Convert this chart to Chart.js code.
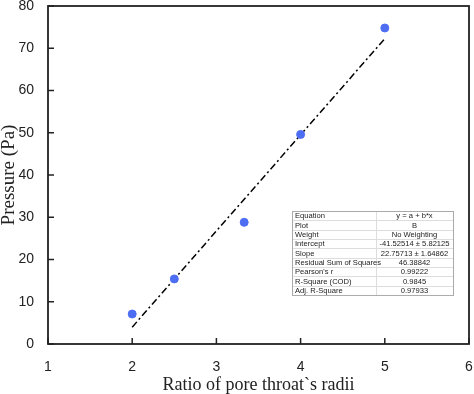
<!DOCTYPE html>
<html>
<head>
<meta charset="utf-8">
<script src="https://cdn.jsdelivr.net/npm/chart.js@4"></script>
<style>
  html, body { margin: 0; padding: 0; background: #fff; }
  canvas { display: block; }
</style>
</head>
<body>
<canvas id="myChart" width="474" height="394"></canvas>
<script>
// measured points
var ratio = [2, 2.5, 3.33, 4, 5];
var pressure = [7.1, 15.4, 28.8, 49.6, 74.8];
// fitted line ends
var fitX = [2, 5];
var fitY = [3.99, 72.26];
var xTicks = [1, 2, 3, 4, 5, 6];
var yTicks = [0, 10, 20, 30, 40, 50, 60, 70, 80];
// fit report box
var statNames = ['Equation', 'Plot', 'Weight', 'Intercept', 'Slope', 'Residual Sum of Squares', "Pearson's r", 'R-Square (COD)', 'Adj. R-Square'];
var statValues = ['y = a + b*x', 'B', 'No Weighting', '-41.52514 \u00b1 5.82125', '22.75713 \u00b1 1.64862', '46.38842', '0.99222', '0.9845', '0.97933'];

var frame = {
    id: 'frame',
    afterDraw: function (chart) {
        var c = chart.ctx, a = chart.chartArea;
        var xs = chart.scales.x, ys = chart.scales.y;
        c.save();
        c.strokeStyle = '#222';
        c.lineWidth = 1.8;
        c.strokeRect(a.left, a.top, a.right - a.left, a.bottom - a.top);
        c.lineWidth = 1.5;
        c.beginPath();
        xTicks.forEach(function (v) {
            var px = xs.getPixelForValue(v);
            c.moveTo(px, a.bottom);
            c.lineTo(px, a.bottom - 6);
        });
        yTicks.forEach(function (v) {
            var py = ys.getPixelForValue(v);
            c.moveTo(a.left, py);
            c.lineTo(a.left + 6, py);
        });
        c.stroke();

        // stats table
        var tx = 292, ty = 211, w = 161, rh = 9.33, split = 376;
        var h = rh * statNames.length;
        c.fillStyle = '#fff';
        c.fillRect(tx, ty, w, h);
        c.strokeStyle = '#ddd';
        c.lineWidth = 1;
        for (var i = 1; i < statNames.length; i++) {
            c.beginPath();
            c.moveTo(tx, Math.round(ty + i * rh) + 0.5);
            c.lineTo(tx + w, Math.round(ty + i * rh) + 0.5);
            c.stroke();
        }
        c.beginPath();
        c.moveTo(split + 0.5, ty);
        c.lineTo(split + 0.5, ty + h);
        c.stroke();
        c.strokeStyle = '#aaa';
        c.strokeRect(tx + 0.5, ty + 0.5, w, h);
        c.fillStyle = '#222';
        c.font = '7.6px "Liberation Sans", Arial, sans-serif';
        c.textBaseline = 'middle';
        statNames.forEach(function (n, i) {
            var yy = ty + i * rh + rh / 2 + 0.5;
            c.textAlign = 'left';
            c.fillText(n, tx + 3, yy);
            c.textAlign = 'center';
            c.fillText(statValues[i], (split + tx + w) / 2, yy);
        });
        c.restore();
    }
};

var ctx = document.getElementById('myChart').getContext('2d');
var myChart = new Chart(ctx, {
    type: 'scatter',
    data: {
        datasets: [{
            data: ratio.map(function (x, i) { return {x: x, y: pressure[i]}; }),
            backgroundColor: '#4d6ef2',
            borderColor: '#4d6ef2',
            pointRadius: 4,
            order: 1
        }, {
            data: fitX.map(function (x, i) { return {x: x, y: fitY[i]}; }),
            showLine: true,
            borderColor: '#000',
            borderWidth: 1.5,
            borderDash: [7, 3, 2, 3],
            pointRadius: 0,
            order: 2
        }]
    },
    options: {
        responsive: false,
        animation: false,
        devicePixelRatio: 1,
        layout: { padding: { left: 0, top: 6, right: 4, bottom: 0 } },
        plugins: { legend: { display: false }, tooltip: { enabled: false } },
        scales: {
            x: {
                type: 'linear',
                min: 1, max: 6,
                afterFit: function (s) { s.height = 50; s.paddingLeft = 0; s.paddingRight = 0; },
                afterBuildTicks: function (s) { s.ticks = xTicks.map(function (v) { return {value: v}; }); },
                grid: { display: false },
                border: { display: false },
                ticks: {
                    padding: 7,
                    color: '#222',
                    font: { family: '"Liberation Sans", Arial, sans-serif', size: 14 }
                },
                title: {
                    display: true,
                    text: 'Ratio of pore throat`s radii',
                    color: '#222',
                    padding: 0,
                    font: { family: '"Liberation Serif", "Times New Roman", serif', size: 18, lineHeight: 1 }
                }
            },
            y: {
                min: 0, max: 80,
                afterFit: function (s) { s.width = 48; s.paddingTop = 0; s.paddingBottom = 0; },
                afterBuildTicks: function (s) { s.ticks = yTicks.map(function (v) { return {value: v}; }); },
                grid: { display: false },
                border: { display: false },
                ticks: {
                    padding: 6,
                    color: '#222',
                    font: { family: '"Liberation Sans", Arial, sans-serif', size: 14 }
                },
                title: {
                    display: true,
                    text: 'Pressure (Pa)',
                    color: '#222',
                    padding: 0,
                    font: { family: '"Liberation Serif", "Times New Roman", serif', size: 19, lineHeight: 1 }
                }
            }
        }
    },
    plugins: [frame]
});
</script>
</body>
</html>
